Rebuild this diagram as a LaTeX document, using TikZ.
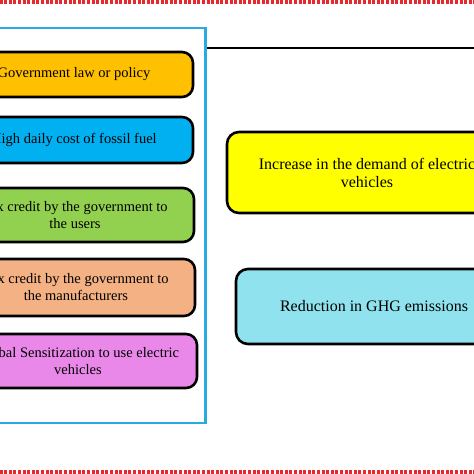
\documentclass[tikz,border=0pt]{standalone}
\usepackage{fontspec}
\setmainfont{Liberation Serif}
\definecolor{cOrange}{HTML}{FFC000}
\definecolor{cBlue}{HTML}{00B0F0}
\definecolor{cGreen}{HTML}{92D050}
\definecolor{cPeach}{HTML}{F4B183}
\definecolor{cViolet}{HTML}{EA88EA}
\definecolor{cYellow}{HTML}{FFFF00}
\definecolor{cCyan}{HTML}{90E3EE}
\definecolor{cFrame}{HTML}{29ABE2}
\definecolor{cRed}{HTML}{E52A2E}
\tikzset{
  causebox/.style={draw=black, line width=2.6pt, rounded corners=11pt,
    minimum width=238pt, align=center, inner sep=0pt,
    font=\fontsize{14.5}{17}\selectfont},
  effectbox/.style={draw=black, line width=2.6pt, rounded corners=12pt,
    align=center, inner sep=0pt,
    font=\fontsize{16}{18}\selectfont},
  redline/.style={draw=cRed, line width=4pt, dash pattern=on 3pt off 1.6pt},
}
\begin{document}
\begin{tikzpicture}[x=1pt,y=-1pt]
\useasboundingbox (0,0) rectangle (474,474);
\clip (0,0) rectangle (474,474);
\fill[white] (0,0) rectangle (474,474);
% red dashed borders
\coordinate (rtl) at (-5,2);
\coordinate (rtr) at (480,2);
\coordinate (rbl) at (-5,472);
\coordinate (rbr) at (480,472);
\draw[redline] (rtl) -- (rtr);
\draw[redline] (rbl) -- (rbr);
% blue frame
\node[draw=cFrame, line width=2.6pt, minimum width=225pt, minimum height=395pt,
  inner sep=0pt] (frame) at (93,225.5) {};
% black line
\coordinate (lineend) at (480,47.5);
\draw[line width=2pt] (lineend -| frame.east) -- (lineend);
% cause boxes
\node[causebox, fill=cOrange, minimum height=45pt] (b1) at (74,74.5) {Government law or policy};
\node[causebox, fill=cBlue, minimum height=46pt] (b2) at (74,140) {High daily cost of fossil fuel};
\node[causebox, fill=cGreen, minimum height=54pt] (b3) at (75,215) {Tax credit by the government to\\the users};
\node[causebox, fill=cPeach, minimum height=57pt] (b4) at (76,287.5) {Tax credit by the government to\\the manufacturers};
\node[causebox, fill=cViolet, minimum height=54pt] (b5) at (78,361) {Global Sensitization to use electric\\vehicles};
% effect boxes
\node[effectbox, fill=cYellow, minimum width=280pt, minimum height=81pt] (e1) at (367,172.5) {Increase in the demand of electric\\vehicles};
\node[effectbox, fill=cCyan, minimum width=276pt, minimum height=75pt] (e2) at (374,306.5) {Reduction in GHG emissions};
\end{tikzpicture}
\end{document}
